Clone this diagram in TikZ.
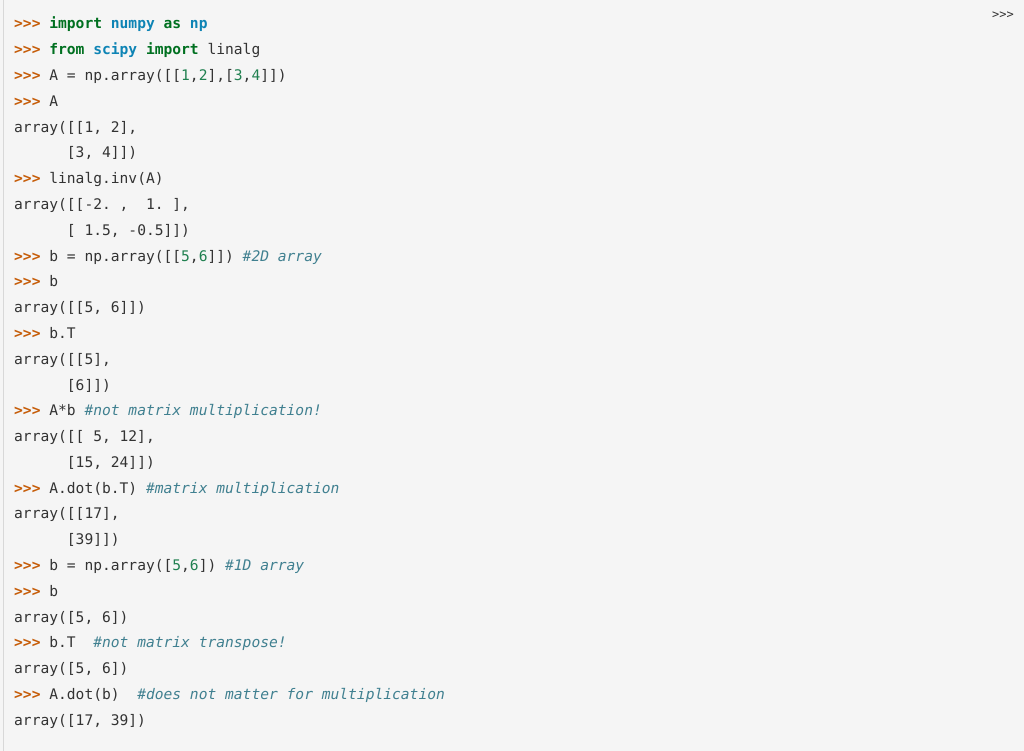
\documentclass[tikz,border=0pt]{standalone}
\usepackage{fontspec}
\setmonofont{DejaVu Sans Mono}
\definecolor{bgc}{HTML}{F5F5F5}
\definecolor{frc}{HTML}{D8D8D8}
\definecolor{prc}{HTML}{C65D09}
\definecolor{kwc}{HTML}{007020}
\definecolor{mdc}{HTML}{0E84B5}
\definecolor{nmc}{HTML}{208050}
\definecolor{cmc}{HTML}{408090}
\definecolor{txc}{HTML}{333333}
\newcommand{\Prm}{\textcolor{prc}{\bfseries >{}>{}>}~}
\newcommand{\Kw}[1]{\textcolor{kwc}{\bfseries #1}}
\newcommand{\Md}[1]{\textcolor{mdc}{\bfseries #1}}
\newcommand{\Nm}[1]{\textcolor{nmc}{#1}}
\newcommand{\Cm}[1]{\textcolor{cmc}{\itshape #1}}
\begin{document}
\begin{tikzpicture}[x=1pt,y=-1pt,
  ln/.style={anchor=base west,inner sep=0pt,text=txc,font=\ttfamily\fontsize{14.6}{16}\selectfont}]
\useasboundingbox (0,0) rectangle (1024,751);
\fill[bgc] (0,0) rectangle (1024,751);
\draw[frc,line width=1pt] (3,0) -- (3,751);
\node[ln,font=\ttfamily\fontsize{12}{14}\selectfont] (corner) at (992,19) {>{}>{}>};
\node[ln] (l0) at (14,29) {\Prm\Kw{import} \Md{numpy} \Kw{as} \Md{np}};
\node[ln] (l1) at (14,54.8) {\Prm\Kw{from} \Md{scipy} \Kw{import} linalg};
\node[ln] (l2) at (14,80.6) {\Prm A = np.array([[\Nm{1},\Nm{2}],[\Nm{3},\Nm{4}]])};
\node[ln] (l3) at (14,106.4) {\Prm A};
\node[ln] (l4) at (14,132.1) {array([[1, 2],};
\node[ln] (l5) at (14,157.9) {~~~~~~[3, 4]])};
\node[ln] (l6) at (14,183.7) {\Prm linalg.inv(A)};
\node[ln] (l7) at (14,209.5) {array([[-2. ,~~1. ],};
\node[ln] (l8) at (14,235.3) {~~~~~~[ 1.5, -0.5]])};
\node[ln] (l9) at (14,261.1) {\Prm b = np.array([[\Nm{5},\Nm{6}]]) \Cm{\#2D array}};
\node[ln] (l10) at (14,286.8) {\Prm b};
\node[ln] (l11) at (14,312.6) {array([[5, 6]])};
\node[ln] (l12) at (14,338.4) {\Prm b.T};
\node[ln] (l13) at (14,364.2) {array([[5],};
\node[ln] (l14) at (14,390.0) {~~~~~~[6]])};
\node[ln] (l15) at (14,415.8) {\Prm A*b \Cm{\#not matrix multiplication!}};
\node[ln] (l16) at (14,441.5) {array([[ 5, 12],};
\node[ln] (l17) at (14,467.3) {~~~~~~[15, 24]])};
\node[ln] (l18) at (14,493.1) {\Prm A.dot(b.T) \Cm{\#matrix multiplication}};
\node[ln] (l19) at (14,518.9) {array([[17],};
\node[ln] (l20) at (14,544.7) {~~~~~~[39]])};
\node[ln] (l21) at (14,570.5) {\Prm b = np.array([\Nm{5},\Nm{6}]) \Cm{\#1D array}};
\node[ln] (l22) at (14,596.2) {\Prm b};
\node[ln] (l23) at (14,622.0) {array([5, 6])};
\node[ln] (l24) at (14,647.8) {\Prm b.T~~\Cm{\#not matrix transpose!}};
\node[ln] (l25) at (14,673.6) {array([5, 6])};
\node[ln] (l26) at (14,699.4) {\Prm A.dot(b)~~\Cm{\#does not matter for multiplication}};
\node[ln] (l27) at (14,725.2) {array([17, 39])};
\end{tikzpicture}
\end{document}
